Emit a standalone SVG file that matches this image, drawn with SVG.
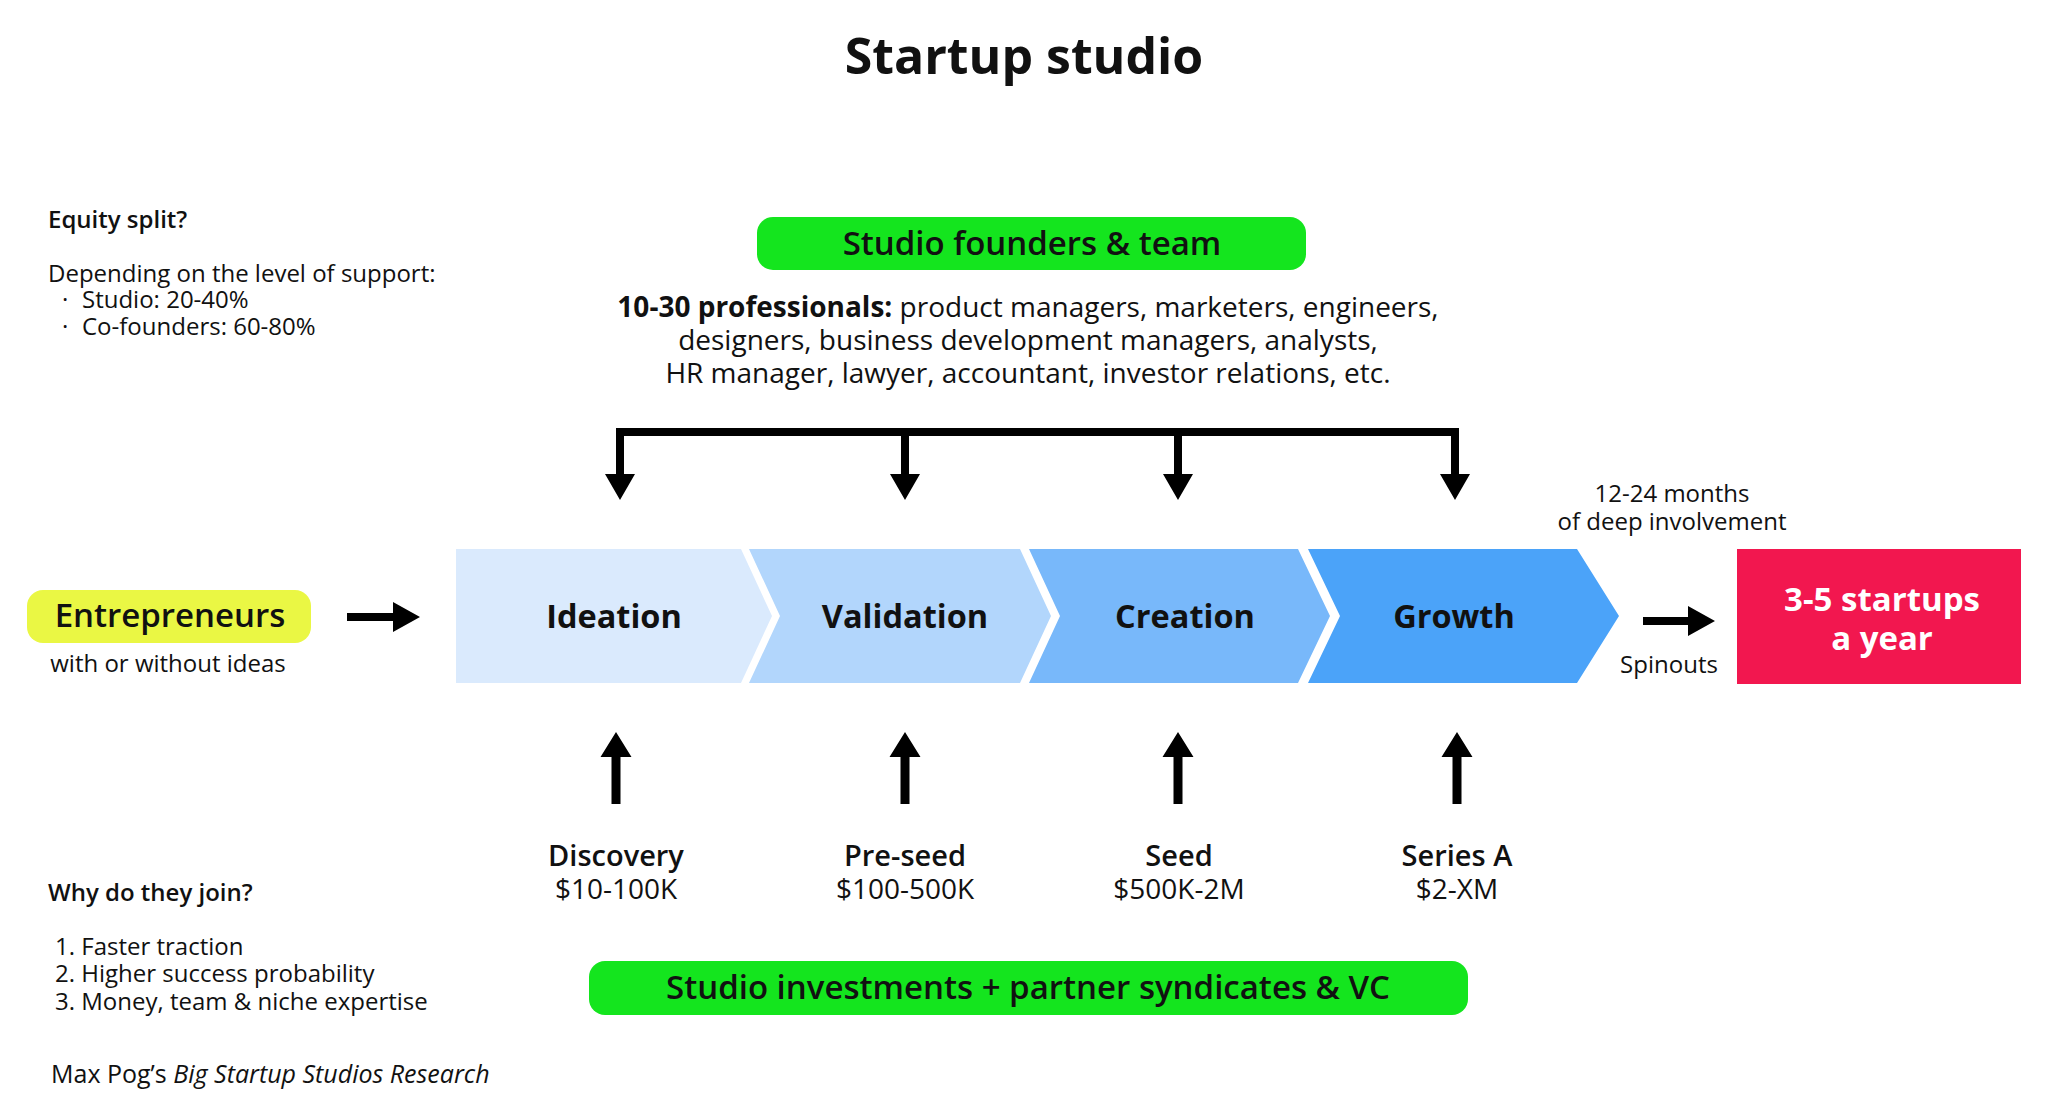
<svg xmlns="http://www.w3.org/2000/svg" width="2048" height="1116" viewBox="0 0 2048 1116">
<style>
text{font-family:"Open Sans","Noto Sans","DejaVu Sans",sans-serif;fill:#111}
.b{font-weight:700}
.sb{font-weight:600}
.c{text-anchor:middle}
.s24{font-size:24px}
.s28{font-size:28px}
.s29{font-size:29px}
.s32{font-size:32.5px}
.s33{font-size:33px}
.arrow{fill:#000}
.green{fill:#14e51e}
.w{fill:#fff}
</style>
<rect width="2048" height="1116" fill="#fff"/>
<g id="title"><text class="b c" x="1024" y="74" font-size="50">Startup studio</text></g>
<g id="equity">
<text class="sb s24" x="48" y="228">Equity split?</text>
<text class="s24" x="48" y="282">Depending on the level of support:</text>
<text class="s24" x="62" y="308">·</text><text class="s24" x="82" y="308">Studio: 20-40%</text>
<text class="s24" x="62" y="335">·</text><text class="s24" x="82" y="335">Co-founders: 60-80%</text>
</g>
<g id="founders">
<rect class="green" x="757" y="217" width="549" height="53" rx="16"/>
<text class="sb s33 c" x="1032" y="255">Studio founders &amp; team</text>
</g>
<g id="professionals">
<text class="s28 c" x="1028" y="317"><tspan class="b">10-30 professionals:</tspan> product managers, marketers, engineers,</text>
<text class="s28 c" x="1028" y="350">designers, business development managers, analysts,</text>
<text class="s28 c" x="1028" y="383">HR manager, lawyer, accountant, investor relations, etc.</text>
</g>
<g id="entrepreneurs">
<rect x="27" y="590" width="284" height="53" rx="16" fill="#eaf744"/>
<text class="sb s33 c" x="170" y="627">Entrepreneurs</text>
<text class="s24 c" x="168" y="672">with or without ideas</text>
</g>
<g id="ideation">
<polygon points="456,549 741,549 772,616 741,683 456,683" fill="#daeafd"/>
<text class="b s32 c" x="614" y="628">Ideation</text>
</g>
<g id="validation">
<polygon points="749,549 1020,549 1051,616 1020,683 749,683 780,616" fill="#b2d6fc"/>
<text class="b s32 c" x="905" y="628">Validation</text>
</g>
<g id="creation">
<polygon points="1029,549 1298,549 1330,616 1298,683 1029,683 1060,616" fill="#78b8fa"/>
<text class="b s32 c" x="1185" y="628">Creation</text>
</g>
<g id="growth">
<polygon points="1308,549 1577,549 1619,616 1577,683 1308,683 1340,616" fill="#4ba3f9"/>
<text class="b s32 c" x="1454" y="628">Growth</text>
</g>
<g id="involvement">
<text class="s24 c" x="1672" y="502">12-24 months</text>
<text class="s24 c" x="1672" y="530">of deep involvement</text>
</g>
<g id="spinouts"><text class="s24 c" x="1669" y="673">Spinouts</text></g>
<g id="startups">
<rect x="1737" y="549" width="284" height="135" fill="#f2174f"/>
<text class="b s33 c w" x="1882" y="611">3-5 startups</text>
<text class="b s33 c w" x="1882" y="650">a year</text>
</g>
<g id="funding">
<text class="sb s29 c" x="616" y="866">Discovery</text>
<text class="s28 c" x="616" y="899">$10-100K</text>
<text class="sb s29 c" x="905" y="866">Pre-seed</text>
<text class="s28 c" x="905" y="899">$100-500K</text>
<text class="sb s29 c" x="1179" y="866">Seed</text>
<text class="s28 c" x="1179" y="899">$500K-2M</text>
<text class="sb s29 c" x="1457" y="866">Series A</text>
<text class="s28 c" x="1457" y="899">$2-XM</text>
</g>
<g id="investments">
<rect class="green" x="589" y="961" width="879" height="54" rx="16"/>
<text class="sb s33 c" x="1028" y="999">Studio investments + partner syndicates &amp; VC</text>
</g>
<g id="why">
<text class="sb s24" x="48" y="901">Why do they join?</text>
<text class="s24" x="55" y="955">1. Faster traction</text>
<text class="s24" x="55" y="982">2. Higher success probability</text>
<text class="s24" x="55" y="1010">3. Money, team &amp; niche expertise</text>
</g>
<g id="credit">
<text font-size="25" x="51" y="1083">Max Pog’s <tspan font-style="italic">Big Startup Studios Research</tspan></text>
</g>
<g id="connectors">
<path class="arrow" d="M616,428 H1459 V474 H1470 L1455,500 L1440,474 H1451 V436 H1182 V474 H1193 L1178,500 L1163,474 H1174 V436 H909 V474 H920 L905,500 L890,474 H901 V436 H624 V474 H635 L620,500 L605,474 H616 Z"/>
<path class="arrow" d="M611.5,804 V757 H600.5 L616,732 L631.5,757 H620.5 V804 Z"/>
<path class="arrow" d="M900.5,804 V757 H889.5 L905,732 L920.5,757 H909.5 V804 Z"/>
<path class="arrow" d="M1173.5,804 V757 H1162.5 L1178,732 L1193.5,757 H1182.5 V804 Z"/>
<path class="arrow" d="M1452.5,804 V757 H1441.5 L1457,732 L1472.5,757 H1461.5 V804 Z"/>
<path class="arrow" d="M347,613 H393 V602 L420,617 L393,632 V621 H347 Z"/>
<path class="arrow" d="M1643,617 H1688 V606 L1715,621 L1688,636 V625 H1643 Z"/>
</g>
</svg>
